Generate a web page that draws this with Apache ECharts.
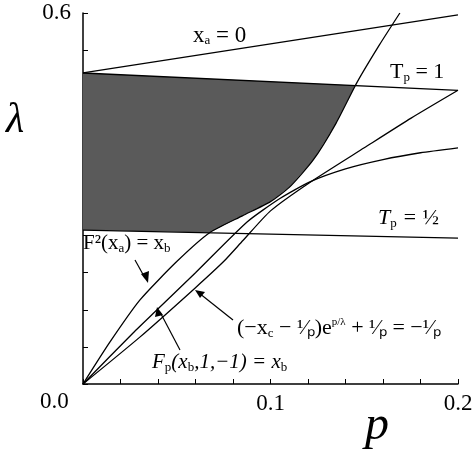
<!DOCTYPE html><html><head><meta charset="utf-8">
<script src="https://cdn.jsdelivr.net/npm/echarts@6/dist/echarts.min.js"></script>
<style>html,body{margin:0;background:#fff}#c{width:474px;height:454px}</style></head><body><div id="c"></div>
<script>
const xa0=[[0,0.503],[0.2,0.597]];
const tp1=[[0,0.503],[0.2,0.475]];
const tpHalf=[[0,0.249],[0.2,0.236]];
const f2P=[0,0.0144,0.0304,0.05,0.0677,0.085,0.1,0.11,0.1227,0.135,0.146,0.158,0.169];
const f2L=[0,0.068,0.136,0.198,0.245,0.272,0.295,0.318,0.362,0.422,0.487,0.548,0.6];
const fpP=[0,0.0267,0.0395,0.06,0.0875,0.105,0.121,0.14,0.16,0.18,0.2];
const fpL=[0,0.0825,0.12,0.18,0.262,0.30,0.327,0.348,0.363,0.374,0.382];
const xcP=[0,0.03,0.0597,0.075,0.0853,0.1,0.121,0.15,0.175,0.2];
const xcL=[0,0.075,0.155,0.198,0.232,0.28,0.326,0.382,0.43,0.475];
const shade=[[0,0.503],[0.145,0.4826],[0.135,0.422],[0.1227,0.362],[0.11,0.318],[0.1,0.295],[0.085,0.272],[0.0677,0.245],[0,0.249]];
const xLabels={'0.1':'0.1','0.2':'0.2'};
const ser=(d)=>({type:'line',data:d,symbol:'none',smooth:0.2,lineStyle:{color:'#000',width:1.3},silent:true,z:3});
const chart=echarts.init(document.getElementById('c'));
const ff='"Liberation Serif", serif';
const sub={fontSize:13,padding:[11,0,0,0],fontFamily:ff};
chart.setOption({
animation:false,
textStyle:{fontFamily:ff},
grid:{left:83,right:16,top:13,bottom:70,outerBoundsMode:'none'},
xAxis:{type:'value',min:0,max:0.2,interval:0.02,axisLine:{lineStyle:{color:'#000',width:1.5}},axisTick:{inside:true,length:5,lineStyle:{color:'#000'}},splitLine:{show:false},
 axisLabel:{color:'#000',fontSize:23,fontFamily:ff,margin:8,showMaxLabel:true,formatter:v=>Math.abs(v*10-Math.round(v*10))<1e-6&&xLabels[v.toFixed(1)]?xLabels[v.toFixed(1)]:''}},
yAxis:{type:'value',min:0,max:0.6,interval:0.06,axisLine:{lineStyle:{color:'#000',width:1.5}},axisTick:{inside:true,length:5,lineStyle:{color:'#000'}},splitLine:{show:false},
 axisLabel:{color:'#000',fontSize:23,fontFamily:ff,margin:12,showMaxLabel:true,formatter:v=>Math.abs(v-0.6)<1e-9?'0.6':''}},
series:[
 {type:'custom',silent:true,data:[0],z:1,renderItem:(p,api)=>({type:'polygon',shape:{points:shade.map(q=>api.coord(q))},style:{fill:'#5a5a5a'}})},
 ser(xa0),ser(tp1),ser(tpHalf),
 ser(f2P.map((p,i)=>[p,f2L[i]])),
 ser(fpP.map((p,i)=>[p,fpL[i]])),
 ser(xcP.map((p,i)=>[p,xcL[i]]))
],
graphic:[
 {type:'text',left:40,top:390,style:{text:'0.0',font:'23px '+ff}},
 {type:'text',left:193,top:24,style:{text:'x{s|a} = 0',font:'23px '+ff,rich:{s:sub}}},
 {type:'text',left:390,top:61,style:{text:'T{s|p} = 1',font:'22px '+ff,rich:{s:sub}}},
 {type:'text',left:378,top:207,style:{text:'T{s|p} = {f|½}',font:'italic 22px '+ff,rich:{s:sub,f:{fontSize:22,fontFamily:ff}}}},
 {type:'text',left:83,top:233,style:{text:'F²(x{s|a}) = x{s|b}',font:'21px '+ff,rich:{s:sub}}},
 {type:'text',left:237,top:317,style:{text:'(−x{s|c} − {f|¹⁄ₚ})e{e|p/λ} + {f|¹⁄ₚ} = −{f|¹⁄ₚ}',font:'22px '+ff,rich:{s:sub,f:{fontSize:21,fontFamily:ff},e:{fontSize:11,padding:[0,0,12,0],fontFamily:ff}}}},
 {type:'text',left:152,top:352,style:{text:'F{s|p}(x{s|b},1,−1) = x{s|b}',font:'italic 21px '+ff,rich:{s:sub}}},
 {type:'text',left:6,top:100,style:{text:'λ',font:'italic 42px '+ff}},
 {type:'text',left:365,top:402,style:{text:'p',font:'italic 48px '+ff}},
 {type:'line',shape:{x1:135,y1:260,x2:145,y2:278},style:{stroke:'#000',lineWidth:1.2}},
 {type:'polygon',shape:{points:[[148,283],[141,274],[149,271]]},style:{fill:'#000'}},
 {type:'line',shape:{x1:233,y1:320,x2:199,y2:293},style:{stroke:'#000',lineWidth:1.2}},
 {type:'polygon',shape:{points:[[195,290],[205,292],[200,298]]},style:{fill:'#000'}},
 {type:'line',shape:{x1:180,y1:350,x2:160,y2:312},style:{stroke:'#000',lineWidth:1.2}},
 {type:'polygon',shape:{points:[[157,307],[155,317],[163,315]]},style:{fill:'#000'}}
]});
</script></body></html>
